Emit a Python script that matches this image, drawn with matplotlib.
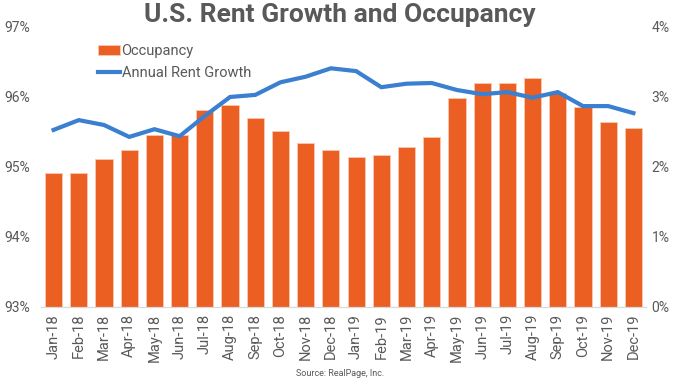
import numpy as np
import matplotlib
matplotlib.use("Agg")
import matplotlib.pyplot as plt
from matplotlib.ticker import FuncFormatter

months = ["Jan-18", "Feb-18", "Mar-18", "Apr-18", "May-18", "Jun-18", "Jul-18", "Aug-18",
          "Sep-18", "Oct-18", "Nov-18", "Dec-18", "Jan-19", "Feb-19", "Mar-19", "Apr-19",
          "May-19", "Jun-19", "Jul-19", "Aug-19", "Sep-19", "Oct-19", "Nov-19", "Dec-19"]
occupancy = [94.92, 94.91, 95.11, 95.24, 95.46, 95.46, 95.81, 95.89,
             95.70, 95.51, 95.34, 95.24, 95.14, 95.17, 95.29, 95.43,
             95.99, 96.20, 96.20, 96.27, 96.06, 95.86, 95.64, 95.56]
rent_growth = [2.53, 2.67, 2.60, 2.43, 2.54, 2.44, 2.73, 3.00,
               3.03, 3.21, 3.29, 3.41, 3.37, 3.14, 3.19, 3.20,
               3.10, 3.04, 3.07, 2.99, 3.07, 2.87, 2.87, 2.77]

plt.rcParams['font.family'] = ['Roboto', 'DejaVu Sans']
gray = "#595959"
orange = "#EB5F22"
blue = "#3A7FD0"

fig = plt.figure(figsize=(6.8, 3.8), dpi=100)
ax = fig.add_axes([41/680, 1 - 307/380, 605/680, 280/380])
x = np.arange(len(months))

bars = ax.bar(x, np.array(occupancy) - 93, bottom=93, width=0.68, color=orange,
              edgecolor="#F9C9B0", linewidth=0.6, label="Occupancy", zorder=2)
ax.set_ylim(93, 97)
ax.set_yticks([93, 94, 95, 96, 97])
ax.yaxis.set_major_formatter(FuncFormatter(lambda v, p: f"{v:.0f}%"))
ax.set_xlim(-0.5, len(months) - 0.5)
ax.set_xticks(x)
ax.set_xticklabels(months, rotation=90)

ax2 = ax.twinx()
line, = ax2.plot(x, rent_growth, color=blue, linewidth=3, label="Annual Rent Growth",
                 solid_joinstyle="miter", zorder=3)
ax2.set_ylim(0, 4)
ax2.set_yticks([0, 1, 2, 3, 4])
ax2.yaxis.set_major_formatter(FuncFormatter(lambda v, p: f"{v:.0f}%"))

for a in (ax, ax2):
    for s in ["top", "left", "right"]:
        a.spines[s].set_visible(False)
    a.spines["bottom"].set_color("#D9D9D9")
    a.tick_params(length=0, labelsize=10, colors=gray)
ax.tick_params(axis="y", pad=8)
ax2.tick_params(axis="y", pad=4)
ax.tick_params(axis="x", pad=5, labelsize=10.5)

leg = ax.legend([bars, line], ["Occupancy", "Annual Rent Growth"], loc="upper left",
                bbox_to_anchor=(0.085, 0.96), frameon=False, fontsize=10.5,
                handlelength=1.5, handletextpad=0.1, labelspacing=0.55, borderaxespad=0)
for t in leg.get_texts():
    t.set_color(gray)

fig.text(0.5, 1 - 15/380, "U.S. Rent Growth and Occupancy", ha="center", va="center",
         fontsize=19, fontweight="bold", color=gray)
fig.text(0.5, 1 - 373/380, "Source: RealPage, Inc.", ha="center", va="center",
         fontsize=6.5, color=gray)

fig.savefig("out.png", dpi=100)
